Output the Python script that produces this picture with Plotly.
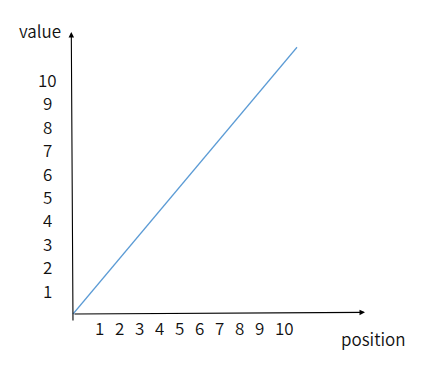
import plotly.graph_objects as go

# ---- data ----
x_ticks = [1, 2, 3, 4, 5, 6, 7, 8, 9, 10]
y_ticks = [1, 2, 3, 4, 5, 6, 7, 8, 9, 10]
line_x = [0, 11.2]
line_y = [0, 11.4]
x_title = "position"
y_title = "value"

W, H = 426, 378
# pixel geometry of the data coordinate system (origin at axis intersection)
OX, OY = 73, 314
UX, UY = 20.0, 23.4
x_range = [-OX / UX, (W - OX) / UX]
y_range = [(OY - H) / UY, OY / UY]

FONT = "Noto Sans CJK JP"
FS = 17
COL = "#111111"
font = dict(family=FONT, size=FS, color=COL, weight=350)

fig = go.Figure()
fig.add_trace(go.Scatter(x=line_x, y=line_y, mode="lines",
                         line=dict(color="#5B9BD5", width=1.2),
                         hoverinfo="skip", showlegend=False))

ann = []
# y axis arrow
ann.append(dict(x=-0.085, y=12.05, ax=0, ay=-0.34, xref="x", yref="y",
                axref="x", ayref="y", showarrow=True, arrowhead=2,
                arrowsize=1, arrowwidth=1.1, arrowcolor="#000000", text=""))
# x axis arrow
ann.append(dict(x=14.6, y=0.07, ax=0, ay=0, xref="x", yref="y",
                axref="x", ayref="y", showarrow=True, arrowhead=2,
                arrowsize=1, arrowwidth=1.1, arrowcolor="#000000", text=""))
for v in x_ticks:
    ann.append(dict(x=v, y=0, xref="x", yref="y", text=str(v), showarrow=False,
                    xanchor="left", yanchor="middle", xshift=0, yshift=-13,
                    height=20, font=font))
for v in y_ticks:
    ann.append(dict(x=0, y=v, xref="x", yref="y", text=str(v), showarrow=False,
                    xanchor="center", yanchor="middle", xshift=-25.5, yshift=1,
                    height=20, font=font))
ann.append(dict(x=40.3 / W, y=1 - 31 / H, xref="paper", yref="paper",
                text=y_title, showarrow=False, xanchor="center", yanchor="middle",
                font=font))
ann.append(dict(x=373.5 / W, y=1 - 338 / H, xref="paper", yref="paper",
                text=x_title, showarrow=False, xanchor="center", yanchor="middle",
                font=font))

fig.update_layout(
    width=W, height=H,
    margin=dict(l=0, r=0, t=0, b=0),
    paper_bgcolor="white", plot_bgcolor="white",
    xaxis=dict(range=x_range, visible=False, fixedrange=True),
    yaxis=dict(range=y_range, visible=False, fixedrange=True),
    annotations=ann,
    showlegend=False,
)
fig.write_html("out.html", config={"displayModeBar": False})
